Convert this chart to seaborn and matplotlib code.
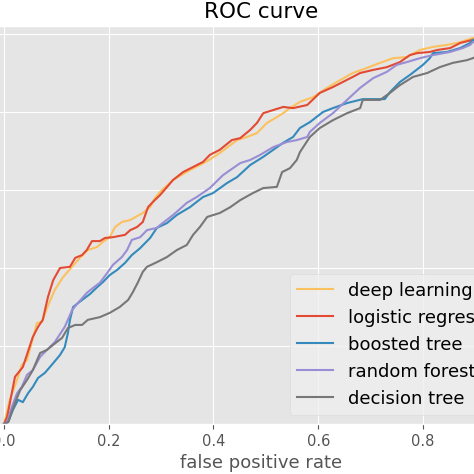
import numpy as np
import pandas as pd
import matplotlib
matplotlib.use("Agg")
import matplotlib.pyplot as plt
import seaborn as sns

# ROC points (false positive rate, true positive rate)
dl_fpr = [0, 0.002, 0.011, 0.025, 0.034, 0.044, 0.063, 0.073, 0.082, 0.097, 0.113, 0.130,
          0.145, 0.160, 0.178, 0.189, 0.202, 0.212, 0.225, 0.241, 0.254, 0.265, 0.279, 0.288,
          0.298, 0.323, 0.355, 0.388, 0.412, 0.445, 0.464, 0.483, 0.502, 0.521, 0.533, 0.546,
          0.565, 0.590, 0.617, 0.642, 0.666, 0.693, 0.718, 0.743, 0.769, 0.794, 0.819, 0.846,
          0.871, 0.895, 1.0]
dl_tpr = [0, 0.010, 0.062, 0.113, 0.151, 0.164, 0.259, 0.262, 0.297, 0.344, 0.377, 0.403,
          0.426, 0.446, 0.454, 0.467, 0.479, 0.505, 0.518, 0.523, 0.533, 0.541, 0.556, 0.579,
          0.595, 0.626, 0.651, 0.674, 0.695, 0.728, 0.736, 0.746, 0.772, 0.787, 0.797, 0.810,
          0.826, 0.838, 0.862, 0.882, 0.900, 0.913, 0.926, 0.938, 0.941, 0.959, 0.967, 0.972,
          0.979, 0.990, 1.0]

lr_fpr = [0, 0.006, 0.021, 0.036, 0.055, 0.065, 0.074, 0.084, 0.094, 0.107, 0.126, 0.136,
          0.149, 0.158, 0.168, 0.183, 0.193, 0.208, 0.231, 0.241, 0.254, 0.265, 0.275, 0.284,
          0.298, 0.323, 0.342, 0.361, 0.380, 0.393, 0.412, 0.435, 0.451, 0.470, 0.483, 0.495,
          0.514, 0.533, 0.552, 0.579, 0.603, 0.628, 0.647, 0.666, 0.680, 0.705, 0.731, 0.756,
          0.775, 0.789, 0.813, 0.827, 0.852, 0.871, 0.895, 1.0]
lr_tpr = [0, 0.018, 0.121, 0.146, 0.223, 0.249, 0.267, 0.326, 0.369, 0.400, 0.403, 0.426,
          0.433, 0.446, 0.469, 0.469, 0.477, 0.479, 0.485, 0.497, 0.505, 0.518, 0.556, 0.569,
          0.587, 0.626, 0.646, 0.659, 0.672, 0.690, 0.703, 0.728, 0.733, 0.754, 0.772, 0.797,
          0.805, 0.813, 0.810, 0.818, 0.849, 0.864, 0.877, 0.890, 0.900, 0.908, 0.915, 0.928,
          0.946, 0.951, 0.954, 0.959, 0.964, 0.977, 0.985, 1.0]

bt_fpr = [0, 0.008, 0.017, 0.027, 0.036, 0.046, 0.055, 0.065, 0.078, 0.094, 0.107, 0.116,
          0.122, 0.126, 0.132, 0.149, 0.164, 0.178, 0.189, 0.202, 0.216, 0.231, 0.244, 0.260,
          0.279, 0.292, 0.311, 0.330, 0.355, 0.380, 0.399, 0.426, 0.445, 0.470, 0.495, 0.514,
          0.533, 0.552, 0.565, 0.584, 0.609, 0.628, 0.655, 0.685, 0.727, 0.737, 0.756, 0.775,
          0.800, 0.813, 0.819, 0.846, 0.871, 0.890, 0.895, 1.0]
bt_tpr = [0, 0.005, 0.036, 0.062, 0.056, 0.079, 0.095, 0.118, 0.131, 0.156, 0.177, 0.197,
          0.233, 0.267, 0.300, 0.318, 0.333, 0.351, 0.364, 0.382, 0.395, 0.413, 0.433, 0.451,
          0.477, 0.503, 0.515, 0.536, 0.556, 0.582, 0.592, 0.618, 0.633, 0.664, 0.685, 0.703,
          0.721, 0.736, 0.759, 0.774, 0.800, 0.810, 0.823, 0.833, 0.833, 0.851, 0.877, 0.895,
          0.921, 0.938, 0.951, 0.954, 0.964, 0.977, 0.985, 1.0]

rf_fpr = [0, 0.006, 0.015, 0.025, 0.034, 0.044, 0.055, 0.069, 0.082, 0.097, 0.116, 0.122,
          0.130, 0.141, 0.158, 0.170, 0.183, 0.197, 0.208, 0.225, 0.235, 0.244, 0.260, 0.273,
          0.292, 0.298, 0.323, 0.349, 0.368, 0.393, 0.418, 0.451, 0.470, 0.489, 0.514, 0.540,
          0.559, 0.579, 0.584, 0.603, 0.628, 0.655, 0.680, 0.705, 0.731, 0.750, 0.769, 0.794,
          0.819, 0.852, 0.876, 0.890, 0.895, 1.0]
rf_tpr = [0, 0.005, 0.044, 0.079, 0.095, 0.126, 0.138, 0.172, 0.190, 0.210, 0.249, 0.267,
          0.292, 0.310, 0.336, 0.349, 0.362, 0.387, 0.408, 0.428, 0.446, 0.472, 0.479, 0.497,
          0.503, 0.510, 0.536, 0.567, 0.582, 0.605, 0.638, 0.669, 0.677, 0.690, 0.710, 0.723,
          0.728, 0.736, 0.749, 0.772, 0.797, 0.831, 0.862, 0.887, 0.903, 0.921, 0.928, 0.938,
          0.946, 0.954, 0.964, 0.972, 0.979, 1.0]

dt_fpr = [0, 0.008, 0.021, 0.031, 0.044, 0.055, 0.069, 0.082, 0.094, 0.111, 0.122, 0.136,
          0.149, 0.160, 0.183, 0.202, 0.221, 0.237, 0.246, 0.256, 0.265, 0.273, 0.292, 0.311,
          0.330, 0.349, 0.361, 0.374, 0.388, 0.412, 0.432, 0.451, 0.475, 0.495, 0.521, 0.531,
          0.546, 0.559, 0.565, 0.584, 0.603, 0.628, 0.655, 0.680, 0.685, 0.718, 0.737, 0.756,
          0.781, 0.808, 0.832, 0.857, 0.884, 0.895, 1.0]
dt_tpr = [0, 0.005, 0.054, 0.087, 0.113, 0.138, 0.182, 0.190, 0.203, 0.221, 0.246, 0.254,
          0.254, 0.267, 0.274, 0.285, 0.300, 0.318, 0.338, 0.364, 0.390, 0.403, 0.415, 0.428,
          0.446, 0.459, 0.485, 0.505, 0.531, 0.541, 0.556, 0.574, 0.592, 0.605, 0.608, 0.646,
          0.656, 0.677, 0.697, 0.736, 0.759, 0.779, 0.797, 0.810, 0.831, 0.831, 0.849, 0.869,
          0.890, 0.900, 0.915, 0.926, 0.933, 0.938, 1.0]

models = ["deep learning", "logistic regression", "boosted tree", "random forest", "decision tree"]
colors = ["#FBC15E", "#E24A33", "#348ABD", "#988ED5", "#777777"]
xticks = [0.0, 0.2, 0.4, 0.6, 0.8, 1.0]
yticks = [0.0, 0.2, 0.4, 0.6, 0.8, 1.0]

frames = []
for name, fpr, tpr in zip(models, [dl_fpr, lr_fpr, bt_fpr, rf_fpr, dt_fpr],
                          [dl_tpr, lr_tpr, bt_tpr, rf_tpr, dt_tpr]):
    frames.append(pd.DataFrame({"fpr": fpr, "tpr": tpr, "model": name}))
df = pd.concat(frames, ignore_index=True)

plt.style.use("ggplot")

fig = plt.figure(figsize=(4.74, 4.74), dpi=100)
# the reference is a crop, so the axes run past the left and right edges
ax = fig.add_axes([-0.0137, 0.1055, 1.1271, 0.8392])

sns.lineplot(data=df, x="fpr", y="tpr", hue="model", hue_order=models,
             palette=dict(zip(models, colors)), estimator=None, sort=False,
             linewidth=1.5, ax=ax)

ax.set_xlim(-0.02, 1.0)
ax.set_ylim(0, 1.02)
ax.set_xticks(xticks)
ax.set_yticks(yticks)
ax.tick_params(axis="both", labelsize=10.5, colors="#555555")
ax.set_title("ROC curve", fontsize=15.5)
ax.set_xlabel("false positive rate", fontsize=13, color="#555555")
ax.set_ylabel("true positive rate", fontsize=13, color="#555555")

sns.move_legend(ax, "lower right", title=None, fontsize=13,
                facecolor="#EFEFEF", edgecolor="#D8D8D8", framealpha=0.8)

fig.savefig("out.png", dpi=100)
